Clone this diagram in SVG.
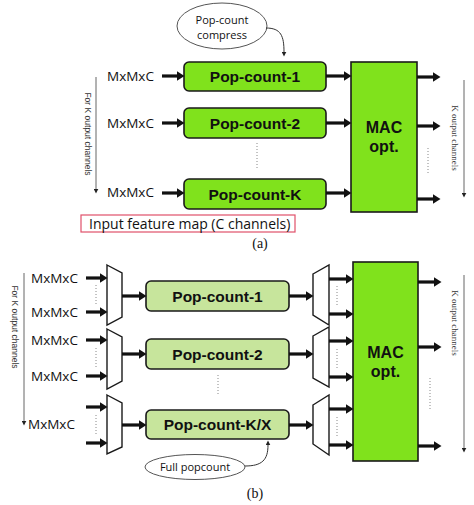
<svg xmlns="http://www.w3.org/2000/svg" width="474" height="505" viewBox="0 0 474 505">
<style>
.bg{fill:#ffffff}
.pa{fill:#80e21c;stroke:#1a1a1a;stroke-width:1.6}
.pb{fill:#c7e59c;stroke:#1a1a1a;stroke-width:1.6}
.mac{fill:#80e21c;stroke:#1a1a1a;stroke-width:1.6}
.mux{fill:#ffffff;stroke:#1a1a1a;stroke-width:1.4}
.ell{fill:#ffffff;stroke:#555555;stroke-width:1}
.bt{font-family:"Liberation Sans",Arial,sans-serif;font-weight:bold;font-size:15.5px;fill:#111;text-anchor:middle}
.mt{font-family:"Liberation Sans",Arial,sans-serif;font-weight:bold;font-size:16px;fill:#111;text-anchor:middle}
.lb{font-family:"Open Sans","Liberation Sans",sans-serif;font-size:13.5px;fill:#111}
.inp{font-family:"Open Sans","Liberation Sans",sans-serif;font-size:14px;fill:#111}
.sm{font-family:"Open Sans","Liberation Sans",sans-serif;font-size:11px;fill:#111;text-anchor:middle}
.rot{font-family:"Liberation Sans",Arial,sans-serif;font-size:8.5px;fill:#333;text-anchor:middle}
.rots{font-family:"Liberation Serif","Times New Roman",serif;font-size:9px;fill:#333;text-anchor:middle}
.cap{font-family:"Liberation Serif","Times New Roman",serif;font-size:14px;fill:#111;text-anchor:middle}
.thick{stroke:#111;stroke-width:3.2;fill:none;marker-end:url(#ah)}
.thin{stroke:#666;stroke-width:1;fill:none;marker-end:url(#sh)}
.cur{stroke:#333;stroke-width:1;fill:none;marker-end:url(#sh)}
.dot{stroke:#888;stroke-width:1;stroke-dasharray:1 2;fill:none}
</style>
<defs>
<marker id="ah" viewBox="0 0 8 10" refX="0.5" refY="5" markerWidth="8" markerHeight="10" markerUnits="userSpaceOnUse" orient="auto">
<path d="M0,0 L8,5 L0,10 z" fill="#111"/>
</marker>
<marker id="sh" viewBox="0 0 6 6" refX="0.5" refY="3" markerWidth="5" markerHeight="5" markerUnits="userSpaceOnUse" orient="auto">
<path d="M0,0 L6,3 L0,6 z" fill="#222"/>
</marker>
</defs>
<rect class="bg" x="0" y="0" width="474" height="505"/>

<!-- (a) -->
<g id="a-compress">
<ellipse class="ell" cx="222" cy="26" rx="45" ry="23"/>
<text class="sm" x="222" y="24">Pop-count</text>
<text class="sm" x="222" y="39">compress</text>
</g>
<g id="a-pc1"><rect class="pa" x="184" y="62" width="142" height="29" rx="5"/><text class="bt" x="255" y="82">Pop-count-1</text></g>
<g id="a-pc2"><rect class="pa" x="184" y="108" width="142" height="30" rx="5"/><text class="bt" x="255" y="128.5">Pop-count-2</text></g>
<g id="a-pck"><rect class="pa" x="184" y="179" width="142" height="30" rx="5"/><text class="bt" x="255" y="199.5">Pop-count-K</text></g>
<g id="a-mac"><rect class="mac" x="351" y="62" width="66" height="150"/><text class="mt" x="384" y="133">MAC</text><text class="mt" x="384" y="152">opt.</text></g>
<g id="a-labels">
<text class="lb" x="107" y="81">MxMxC</text>
<text class="lb" x="107" y="128">MxMxC</text>
<text class="lb" x="107" y="197">MxMxC</text>
<text class="rot" transform="translate(85,134) rotate(90)">For K output channels</text>
<text class="rots" transform="translate(452,138) rotate(90)">K output channels</text>
</g>
<g id="a-input">
<rect x="81" y="215" width="214" height="17" fill="#ffffff" stroke="#e0506a" stroke-width="1.2"/>
<text class="inp" x="89" y="228.5">Input feature map (C channels)</text>
</g>
<text class="cap" x="260" y="248">(a)</text>

<g id="a-connectors">
<path class="cur" d="M266,28 C281,28 284,36 284,52"/>
<line class="thick" x1="162" y1="76" x2="177" y2="76"/>
<line class="thick" x1="162" y1="123" x2="177" y2="123"/>
<line class="thick" x1="162" y1="193" x2="177" y2="193"/>
<line class="thick" x1="326" y1="76" x2="344" y2="76"/>
<line class="thick" x1="326" y1="123" x2="344" y2="123"/>
<line class="thick" x1="326" y1="193" x2="344" y2="193"/>
<line class="thick" x1="417" y1="77" x2="433" y2="77"/>
<line class="thick" x1="417" y1="126" x2="433" y2="126"/>
<line class="thick" x1="417" y1="199" x2="433" y2="199"/>
<line class="thin" x1="96" y1="77" x2="96" y2="189"/>
<line class="thin" x1="464" y1="80" x2="464" y2="193"/>
<line class="dot" x1="257" y1="143" x2="257" y2="168"/>
<line class="dot" x1="428" y1="148" x2="428" y2="173"/>
</g>

<!-- (b) -->
<g id="b-muxL1"><polygon class="mux" points="107,265 122,273 122,317 107,325"/></g>
<g id="b-muxL2"><polygon class="mux" points="107,329 122,337 122,381 107,389"/></g>
<g id="b-muxL3"><polygon class="mux" points="107,395 122,403 122,447 107,454"/></g>
<g id="b-pc1"><rect class="pb" x="146" y="281" width="143" height="30" rx="5"/><text class="bt" x="217.5" y="301.5">Pop-count-1</text></g>
<g id="b-pc2"><rect class="pb" x="146" y="339" width="143" height="30" rx="5"/><text class="bt" x="217.5" y="359.5">Pop-count-2</text></g>
<g id="b-pck"><rect class="pb" x="146" y="410" width="143" height="29" rx="5"/><text class="bt" x="217.5" y="430">Pop-count-K/X</text></g>
<g id="b-muxR1"><polygon class="mux" points="313,274 329,265 329,325 313,315"/></g>
<g id="b-muxR2"><polygon class="mux" points="313,336 329,327 329,387 313,378"/></g>
<g id="b-muxR3"><polygon class="mux" points="313,405 329,395 329,455 313,444"/></g>
<g id="b-mac"><rect class="mac" x="353" y="262" width="65" height="199"/><text class="mt" x="385.5" y="358">MAC</text><text class="mt" x="385.5" y="377">opt.</text></g>
<g id="b-full">
<ellipse class="ell" cx="195" cy="467" rx="50" ry="12.5"/>
<text class="sm" x="195" y="471">Full popcount</text>
</g>
<g id="b-labels">
<text class="lb" x="31" y="283">MxMxC</text>
<text class="lb" x="31" y="317">MxMxC</text>
<text class="lb" x="31" y="345">MxMxC</text>
<text class="lb" x="31" y="381">MxMxC</text>
<text class="lb" x="28" y="429">MxMxC</text>
<text class="rot" transform="translate(12,327) rotate(90)">For K output channels</text>
<text class="rots" transform="translate(452,323) rotate(90)">K output channels</text>
</g>
<text class="cap" x="255" y="498">(b)</text>

<g id="b-connectors">
<line class="thick" x1="86" y1="278" x2="100" y2="278"/>
<line class="thick" x1="86" y1="312" x2="100" y2="312"/>
<line class="thick" x1="86" y1="340" x2="100" y2="340"/>
<line class="thick" x1="86" y1="376" x2="100" y2="376"/>
<line class="thick" x1="86" y1="407" x2="100" y2="407"/>
<line class="thick" x1="86" y1="443" x2="100" y2="443"/>
<line class="thick" x1="122" y1="296" x2="139" y2="296"/>
<line class="thick" x1="122" y1="354" x2="139" y2="354"/>
<line class="thick" x1="122" y1="425" x2="139" y2="425"/>
<line class="thick" x1="289" y1="296" x2="306" y2="296"/>
<line class="thick" x1="289" y1="354" x2="306" y2="354"/>
<line class="thick" x1="289" y1="425" x2="306" y2="425"/>
<line class="thick" x1="329" y1="279" x2="346" y2="279"/>
<line class="thick" x1="329" y1="314" x2="346" y2="314"/>
<line class="thick" x1="329" y1="341" x2="346" y2="341"/>
<line class="thick" x1="329" y1="377" x2="346" y2="377"/>
<line class="thick" x1="329" y1="409" x2="346" y2="409"/>
<line class="thick" x1="329" y1="445" x2="346" y2="445"/>
<line class="thick" x1="418" y1="282" x2="434" y2="282"/>
<line class="thick" x1="418" y1="347" x2="434" y2="347"/>
<line class="thick" x1="418" y1="446" x2="434" y2="446"/>
<path class="cur" d="M245,466 C262,466 268,460 268,445"/>
<line class="thin" x1="24" y1="273" x2="24" y2="421"/>
<line class="thin" x1="464" y1="275" x2="464" y2="448"/>
<line class="dot" x1="96" y1="285" x2="96" y2="305"/>
<line class="dot" x1="96" y1="348" x2="96" y2="368"/>
<line class="dot" x1="96" y1="415" x2="96" y2="435"/>
<line class="dot" x1="218" y1="375" x2="218" y2="395"/>
<line class="dot" x1="337" y1="286" x2="337" y2="307"/>
<line class="dot" x1="337" y1="349" x2="337" y2="369"/>
<line class="dot" x1="337" y1="417" x2="337" y2="437"/>
<line class="dot" x1="430" y1="378" x2="430" y2="410"/>
</g>
</svg>
